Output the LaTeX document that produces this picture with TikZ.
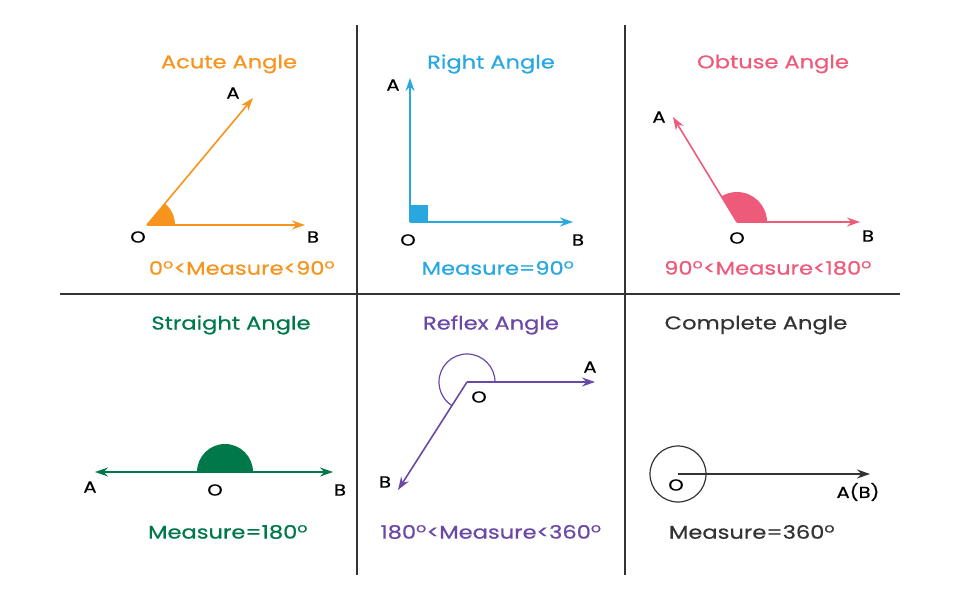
\documentclass[tikz,border=0pt]{standalone}
\usepackage{fontspec}
\setmainfont{Poppins}[FakeStretch=1.22,FakeBold=0.6]
\usetikzlibrary{arrows.meta}
\definecolor{acutecol}{HTML}{F7941D}
\definecolor{rightcol}{HTML}{29A8E0}
\definecolor{obtusecol}{HTML}{EE5A7A}
\definecolor{straightcol}{HTML}{00784A}
\definecolor{reflexcol}{HTML}{6A48A6}
\definecolor{completecol}{HTML}{333333}
\newcommand{\dg}{\textsuperscript{o}}
\tikzset{
  ray/.style={line width=1.6pt, -{Stealth[length=13pt,width=9pt]}},
  title/.style={font=\fontsize{18.5}{21}\selectfont},
  measure/.style={font=\fontsize{18.5}{21}\selectfont},
  pt/.style={font=\fontsize{16}{19}\selectfont},
  divider/.style={line width=1.2pt, draw=completecol}
}
\begin{document}
\begin{tikzpicture}[x=1pt,y=-1pt]
    \useasboundingbox (0,0) rectangle (961,593);
    % dividers
    \draw[divider] (357,25) -- (357,575);
    \draw[divider] (625,25) -- (625,575);
    \draw[divider] (60,294) -- (900,294);
    % acute
    \coordinate (acO) at (147,225);
    \coordinate (acA) at (253,98);
    \coordinate (acB) at (305,225);
    \fill[acutecol] (acO) -- ++(28,0) arc[start angle=0,end angle=-50,radius=28] -- cycle;
    \draw[ray,acutecol] (acO) -- (acA);
    \draw[ray,acutecol] (acO) -- (acB);
    \node[title,acutecol] (acT) at (229,64) {Acute Angle};
    \node[pt] (acOl) at (138,237) {O};
    \node[pt] (acBl) at (313,237) {B};
    \node[pt] (acAl) at (233,93) {A};
    \node[measure,acutecol] (acM) at (242,268) {0\dg<Measure<90\dg};
    % right
    \coordinate (rtO) at (410,222);
    \coordinate (rtA) at (410,78);
    \coordinate (rtB) at (573,222);
    \fill[rightcol] (rtO) rectangle (428,205);
    \draw[ray,rightcol] (rtO) -- (rtA);
    \draw[ray,rightcol] (rtO) -- (rtB);
    \node[title,rightcol] (rtT) at (491,64) {Right Angle};
    \node[pt] (rtOl) at (408,240) {O};
    \node[pt] (rtBl) at (578,240) {B};
    \node[pt] (rtAl) at (393,85) {A};
    \node[measure,rightcol] (rtM) at (498,268) {Measure=90\dg};
    % obtuse
    \coordinate (obO) at (737,222);
    \coordinate (obA) at (673,117);
    \coordinate (obB) at (860,222);
    \fill[obtusecol] (obO) -- ++(30,0) arc[start angle=0,end angle=-121,radius=30] -- cycle;
    \draw[ray,obtusecol] (obO) -- (obA);
    \draw[ray,obtusecol] (obO) -- (obB);
    \node[title,obtusecol] (obT) at (773,64) {Obtuse Angle};
    \node[pt] (obOl) at (737,238) {O};
    \node[pt] (obBl) at (868,236) {B};
    \node[pt] (obAl) at (659,117) {A};
    \node[measure,obtusecol] (obM) at (768,268) {90\dg<Measure<180\dg};
    % straight
    \coordinate (stO) at (225,472);
    \coordinate (stA) at (95,472);
    \coordinate (stB) at (333,472);
    \fill[straightcol] (stO) -- ++(28,0) arc[start angle=0,end angle=-180,radius=28] -- cycle;
    \draw[ray,straightcol] (stO) -- (stA);
    \draw[ray,straightcol] (stO) -- (stB);
    \node[title,straightcol] (stT) at (231,325) {Straight Angle};
    \node[pt] (stOl) at (215,490) {O};
    \node[pt] (stAl) at (90,487) {A};
    \node[pt] (stBl) at (340,490) {B};
    \node[measure,straightcol] (stM) at (228,532) {Measure=180\dg};
    % reflex
    \coordinate (rfO) at (467,382);
    \coordinate (rfA) at (595,382);
    \coordinate (rfB) at (398,490);
    \draw[reflexcol,line width=1.2pt] (rfO) ++(28,0) arc[start angle=0,end angle=-237,radius=28];
    \draw[ray,reflexcol] (rfO) -- (rfA);
    \draw[ray,reflexcol] (rfO) -- (rfB);
    \node[title,reflexcol] (rfT) at (491,325) {Reflex Angle};
    \node[pt] (rfOl) at (479,397) {O};
    \node[pt] (rfAl) at (590,367) {A};
    \node[pt] (rfBl) at (385,482) {B};
    \node[measure,reflexcol] (rfM) at (491,532) {180\dg<Measure<360\dg};
    % complete
    \coordinate (cpO) at (678,474);
    \coordinate (cpA) at (870,474);
    \draw[completecol,line width=1.2pt] (cpO) circle[radius=28];
    \draw[ray,completecol,line width=1.2pt] (cpO) -- (cpA);
    \node[title,completecol] (cpT) at (756,325) {Complete Angle};
    \node[pt] (cpOl) at (676,485) {O};
    \node[pt] (cpAl) at (858,492) {A(B)};
    \node[measure,completecol] (cpM) at (752,532) {Measure=360\dg};
\end{tikzpicture}
\end{document}
